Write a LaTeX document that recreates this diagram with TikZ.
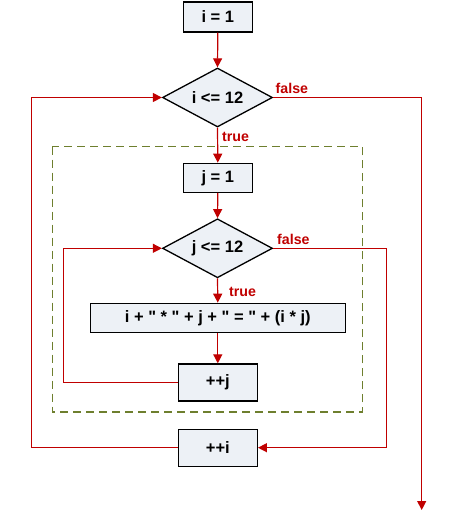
\documentclass[tikz,border=0pt]{standalone}
\usepackage{fontspec}
\newfontfamily\flowfont{Liberation Sans}
\usetikzlibrary{shapes.geometric,arrows.meta}
\definecolor{flowred}{HTML}{C00000}
\definecolor{boxfill}{HTML}{EDF1F6}
\definecolor{olive}{HTML}{6E7F2E}
\begin{document}
\begin{tikzpicture}[x=1pt,y=-1pt,
  procbox/.style={draw=black,line width=1.3pt,fill=boxfill,inner sep=0pt,font=\flowfont\fontsize{16.5}{19}\selectfont\bfseries},
  decbox/.style={diamond,draw=black,line width=1.3pt,fill=boxfill,inner sep=0pt,aspect=1.86,minimum width=110pt,minimum height=59pt,font=\flowfont\fontsize{16.5}{19}\selectfont\bfseries},
  flow/.style={draw=flowred,line width=1.2pt},
  flowarrow/.style={flow,-{Triangle[length=9pt,width=9pt]}},
  lbl/.style={text=flowred,font=\flowfont\fontsize{14.2}{17}\selectfont\bfseries,inner sep=0pt}]
\useasboundingbox (0,0) rectangle (450,513);
% dashed inner loop frame
\draw[olive,line width=1.1pt,dash pattern=on 8pt off 5pt] (52.3,146.7) rectangle (362.3,412);
% nodes
\node[procbox,minimum width=69pt,minimum height=30pt] (i1) at (217.8,17) {i = 1};
\node[decbox] (d1) at (217.5,97.5) {i <= 12};
\node[procbox,minimum width=69pt,minimum height=29pt] (j1) at (217.8,177.8) {j = 1};
\node[decbox] (d2) at (217.5,248.3) {j <= 12};
\node[procbox,minimum width=255pt,minimum height=29pt] (pr) at (217.8,317.8) {i + " * " + j + " = " + (i * j)};
\node[procbox,minimum width=79pt,minimum height=37pt] (pj) at (217.8,382.5) {++j};
\node[procbox,minimum width=79pt,minimum height=37pt] (pi) at (217.8,447.7) {++i};
% coordinates
\coordinate (endpt) at (421.7,510);
\coordinate (jfalse) at (386.7,248.3);
\coordinate (jloop) at (63.3,382.5);
\coordinate (iloop) at (31.3,447.7);
% connectors
\draw[flowarrow] (i1.south) -- (d1.north);
\draw[flowarrow] (d1.south) -- (j1.north);
\draw[flowarrow] (j1.south) -- (d2.north);
\draw[flowarrow] (d2.south) -- (pr.north);
\draw[flowarrow] (pr.south) -- (pj.north);
\draw[flowarrow] (d1.east) -| (endpt);
\draw[flowarrow] (d2.east) -- (jfalse) |- (pi.east);
\draw[flowarrow] (pj.west) -- (jloop) |- (d2.west);
\draw[flowarrow] (pi.west) -- (iloop) |- (d1.west);
% labels
\node[lbl,anchor=west] (f1) at (275.5,88.5) {false};
\node[lbl,anchor=west] (t1) at (222,137) {true};
\node[lbl,anchor=west] (f2) at (277,239.5) {false};
\node[lbl,anchor=west] (t2) at (229,291.5) {true};
\end{tikzpicture}
\end{document}
